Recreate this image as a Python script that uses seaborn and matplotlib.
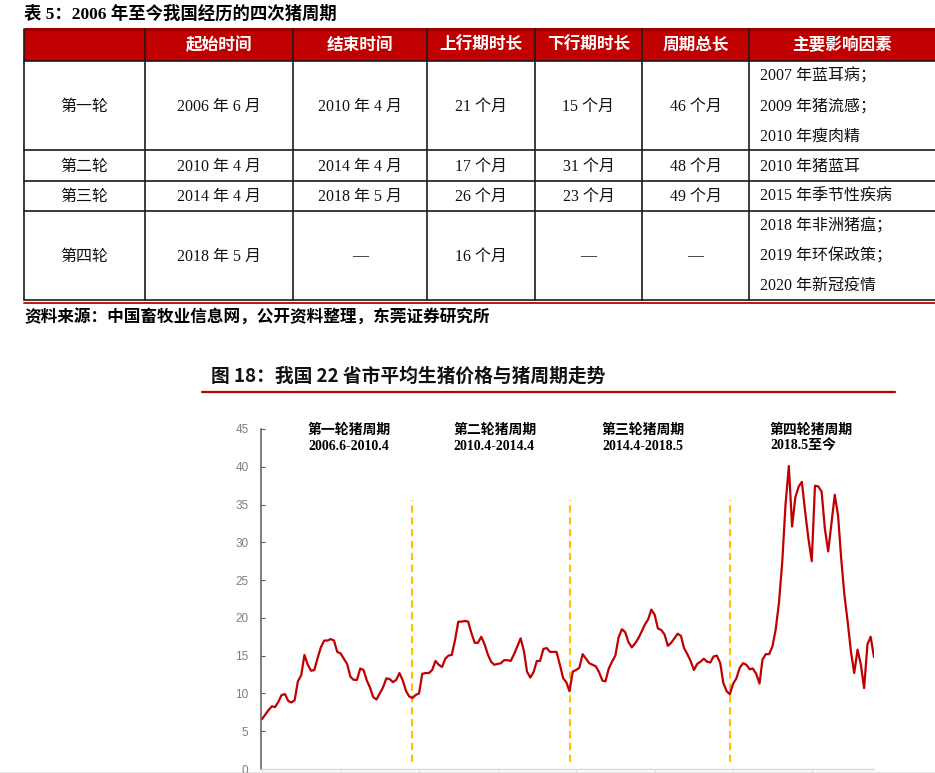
import matplotlib
matplotlib.use('Agg')
import matplotlib.pyplot as plt
import seaborn as sns
import pandas as pd
from matplotlib.patches import Rectangle

sns.set_theme(style='white')
plt.rcParams['font.family'] = ['Noto Sans CJK SC', 'DejaVu Sans']

# ---------------- data ----------------
TABLE_TITLE = '表 5：2006 年至今我国经历的四次猪周期'
table_header = ['', '起始时间', '结束时间', '上行期时长', '下行期时长', '周期总长', '主要影响因素']
rounds = ['第一轮', '第二轮', '第三轮', '第四轮']
start_times = ['2006 年 6 月', '2010 年 4 月', '2014 年 4 月', '2018 年 5 月']
end_times = ['2010 年 4 月', '2014 年 4 月', '2018 年 5 月', '—']
up_lengths = ['21 个月', '17 个月', '26 个月', '16 个月']
down_lengths = ['15 个月', '31 个月', '23 个月', '—']
total_lengths = ['46 个月', '48 个月', '49 个月', '—']
factors = [['2007 年蓝耳病；', '2009 年猪流感；', '2010 年瘦肉精'],
           ['2010 年猪蓝耳'],
           ['2015 年季节性疾病'],
           ['2018 年非洲猪瘟；', '2019 年环保政策；', '2020 年新冠疫情']]
SOURCE = '资料来源：中国畜牧业信息网，公开资料整理，东莞证券研究所'

CHART_TITLE = '图 18：我国 22 省市平均生猪价格与猪周期走势'
cycle_names = ['第一轮猪周期', '第二轮猪周期', '第三轮猪周期', '第四轮猪周期']
cycle_periods = ['2006.6-2010.4', '2010.4-2014.4', '2014.4-2018.5', '2018.5至今']
cycle_bounds = ['2010-04-01', '2014-04-01', '2018-05-01']
price_start = '2006-06-01'
prices = [
    6.6, 7.2, 7.8, 8.3, 8.2, 8.9, 9.8, 9.9, 9.0, 8.8,
    9.1, 11.6, 12.4, 15.1, 13.8, 13.0, 13.1, 14.7, 16.1, 17.0,
    17.0, 17.2, 17.0, 15.5, 15.3, 14.6, 13.9, 12.2, 11.8, 11.8,
    13.3, 13.1, 11.7, 10.8, 9.5, 9.2, 10.0, 10.8, 12.0, 11.9,
    11.5, 11.8, 12.7, 11.7, 10.3, 9.6, 9.4, 9.8, 10.0, 12.6,
    12.7, 12.7, 13.1, 14.3, 13.8, 13.5, 14.6, 15.0, 15.1, 17.0,
    19.5, 19.5, 19.6, 19.5, 18.0, 16.7, 16.7, 17.5, 16.5, 15.2,
    14.2, 13.8, 13.9, 14.0, 14.4, 14.4, 14.3, 15.2, 16.2, 17.3,
    15.6, 12.9, 12.1, 12.8, 14.3, 14.3, 15.9, 16.0, 15.5, 15.5,
    15.5, 13.8, 12.0, 11.5, 10.3, 12.9, 13.1, 13.4, 15.2, 14.6,
    14.0, 13.8, 13.6, 12.8, 11.7, 11.6, 13.3, 14.2, 15.0, 17.4,
    18.5, 18.1, 16.8, 16.1, 16.6, 17.3, 18.2, 19.1, 19.8, 21.1,
    20.4, 18.6, 18.4, 17.8, 16.3, 16.7, 17.3, 17.9, 17.6, 16.0,
    15.2, 14.3, 13.1, 13.9, 14.2, 14.6, 14.2, 14.1, 14.9, 15.0,
    14.0, 11.4, 10.3, 9.9, 11.3, 12.0, 13.4, 14.0, 13.8, 13.2,
    13.3, 12.6, 11.3, 14.5, 15.2, 15.2, 16.2, 18.4, 22.0, 27.5,
    35.0, 40.1, 32.1, 36.0, 37.4, 38.0, 34.0, 30.5, 27.5, 37.5,
    37.4, 36.7, 31.8, 28.8, 32.5, 36.3, 33.5, 28.0, 23.0, 19.5,
    15.5, 12.7, 15.8, 13.8, 10.7, 16.5, 17.5, 14.8,
]
y_ticks = [0, 5, 10, 15, 20, 25, 30, 35, 40, 45]

# ---------------- figure ----------------
W, H = 935, 773
fig = plt.figure(figsize=(W / 100, H / 100), dpi=100)
fig.patch.set_facecolor('white')

ov = fig.add_axes([0, 0, 1, 1])
ov.set_xlim(0, W)
ov.set_ylim(H, 0)
ov.axis('off')

RED = '#C00000'
serif_cjk = ['Liberation Serif', 'Noto Sans CJK SC']

# table title
ov.text(24, 14, TABLE_TITLE, ha='left', va='center', fontsize=12.5,
        fontweight='bold', family=serif_cjk, color='black')

col_edges = [24, 145, 293, 427, 535, 642, 749, 980]
row_edges = [29, 61, 150, 181, 211, 300]

# header band
ov.add_patch(Rectangle((24, 29), W + 50, 32, facecolor=RED, edgecolor='none'))
ov.plot([24, W], [29, 29], color='#A00000', lw=2.2, solid_capstyle='butt')

# grid lines
for y in row_edges[1:-1]:
    ov.plot([24, W], [y, y], color='#1a1a1a', lw=1.2)
ov.plot([24, W], [300, 300], color='#1a1a1a', lw=1.2)
ov.plot([24, W], [302.5, 302.5], color=RED, lw=1.3)
for x in col_edges[:-1]:
    ov.plot([x, x], [29, 300], color='#1a1a1a', lw=1.2)

# header texts
for i, h in enumerate(table_header):
    if not h:
        continue
    cx = (col_edges[i] + col_edges[i + 1]) / 2 if i < 6 else 842
    ov.text(cx, 45, h, ha='center', va='center', fontsize=12, fontweight='bold',
            color='white', family=['Noto Sans CJK SC'])

# body
columns = [rounds, start_times, end_times, up_lengths, down_lengths, total_lengths]
for r in range(4):
    cy = (row_edges[r + 1] + row_edges[r + 2]) / 2 + 1
    for c, col in enumerate(columns):
        cx = (col_edges[c] + col_edges[c + 1]) / 2
        ov.text(cx, cy, col[r], ha='center', va='center', fontsize=11.5,
                family=serif_cjk, color='#111111')
    lines = factors[r]
    n = len(lines)
    for k, t in enumerate(lines):
        ly = cy + (k - (n - 1) / 2) * 30
        ov.text(760, ly, t, ha='left', va='center', fontsize=11.5,
                family=serif_cjk, color='#111111')

ov.text(24, 318, SOURCE, ha='left', va='center', fontsize=12,
        fontweight='bold', family=serif_cjk, color='black')

# chart title
ov.text(211, 376, CHART_TITLE, ha='left', va='center', fontsize=13.5,
        fontweight='bold', family=['Noto Sans CJK SC'], color='#111111')
ov.plot([202, 895], [392, 392], color=RED, lw=1.6)

# page bottom rule
ov.plot([0, W], [771.5, 771.5], color='#e6e6e6', lw=1)

# cycle annotations
ann_x = [308, 453, 602, 770]
for x, name, per in zip(ann_x, cycle_names, cycle_periods):
    ov.text(x, 430, name, ha='left', va='center', fontsize=10,
            fontweight='bold', family=serif_cjk, color='black')
    ov.text(x, 446, per, ha='left', va='center', fontsize=10,
            fontweight='bold', family=serif_cjk, color='black')

# ---------------- line chart ----------------
dates = pd.date_range(price_start, periods=len(prices), freq='MS')
df = pd.DataFrame({'date': dates, 'price': prices})

ax_l = 261 / W
ax_r = 874 / W
ax_b = (H - 769) / H
ax_t = (H - 429) / H
ax = fig.add_axes([ax_l, ax_b, ax_r - ax_l, ax_t - ax_b])
ax.set_facecolor('none')

sns.lineplot(data=df, x='date', y='price', ax=ax, color=RED, linewidth=1.6)

bounds = pd.to_datetime(cycle_bounds)
ax.vlines(bounds, 0.9, 35.6, colors='#FFC000', linestyles=(0, (3.5, 2.2)),
          linewidth=1.5, zorder=1)

ax.set_ylim(0, 45)
ax.set_xlim(dates[0] - pd.Timedelta(days=9), dates[-1])
ax.set_yticks(y_ticks)
ax.set_yticklabels([str(v) for v in y_ticks])
xt = pd.date_range(price_start, dates[-1], freq='24MS')
ax.set_xticks(xt)
ax.set_xticklabels([''] * len(xt))
ax.set_xlabel('')
ax.set_ylabel('')
ax.grid(False)

for s in ['top', 'right']:
    ax.spines[s].set_visible(False)
ax.spines['left'].set_color('#595959')
ax.spines['left'].set_linewidth(1.1)
ax.spines['bottom'].set_color('#d9d9d9')
ax.spines['bottom'].set_linewidth(1.0)
ax.tick_params(axis='y', direction='in', length=3, width=0.8, color='#595959',
               labelsize=8.5, labelcolor='#7f7f7f', pad=9, left=True)
ax.tick_params(axis='x', direction='out', length=2, width=0.8, color='#d9d9d9', bottom=True)
for lab in ax.get_yticklabels():
    lab.set_fontfamily(['Liberation Sans', 'DejaVu Sans'])

fig.savefig('out.png', dpi=100, facecolor='white')
